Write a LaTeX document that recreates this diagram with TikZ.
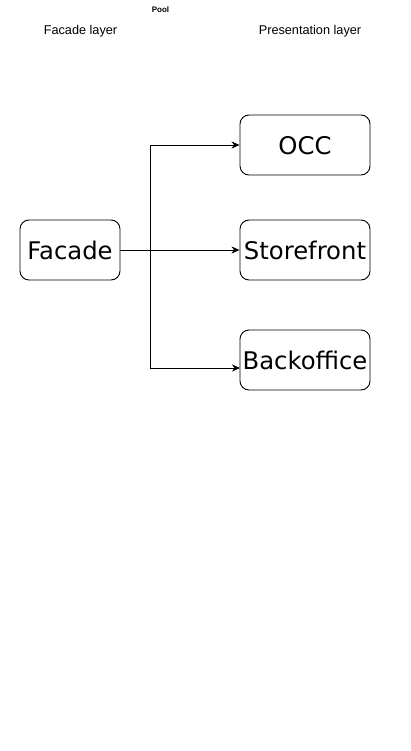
\documentclass[tikz,border=0pt]{standalone}
\usepackage{fontspec}
\setmainfont{Liberation Sans}
\newfontfamily\boxfont{DejaVu Sans}
\usetikzlibrary{arrows.meta}
\begin{document}
\begin{tikzpicture}[x=1pt,y=-1pt,
  blockbox/.style={draw, line width=0.9pt, rounded corners=9pt, minimum width=#1, minimum height=60pt, inner sep=0pt, text depth=0pt, font=\boxfont\fontsize{24.3}{27}\selectfont, anchor=center},
  blockbox/.default=130pt,
  layerlabel/.style={font=\fontsize{12.7}{14}\selectfont, inner sep=0pt},
  conn/.style={draw, line width=0.9pt, -{Stealth[length=8pt,width=7pt,inset=2.5pt]}}
]
\useasboundingbox (0,0) rectangle (411,751);
\node[font=\bfseries\fontsize{8}{9}\selectfont, inner sep=0pt] (pool) at (160.5,10) {Pool};
\node[layerlabel] (fl) at (80.5,31) {Facade layer};
\node[layerlabel] (pl) at (310,31) {Presentation layer};
\node[blockbox=100pt] (facade) at (70,250) {Facade};
\node[blockbox] (occ) at (305,145) {OCC};
\node[blockbox] (store) at (305,250) {Storefront};
\node[blockbox] (back) at (305,360) {Backoffice};
\coordinate (j) at (150,250);
\coordinate (jt) at (150,145);
\coordinate (jb) at (150,368);
\coordinate (be) at (240,368);
\draw[conn] (facade.east) -- (store.west);
\draw[conn] (j) -- (jt) -- (occ.west);
\draw[conn] (j) -- (jb) -- (be);
\end{tikzpicture}
\end{document}
